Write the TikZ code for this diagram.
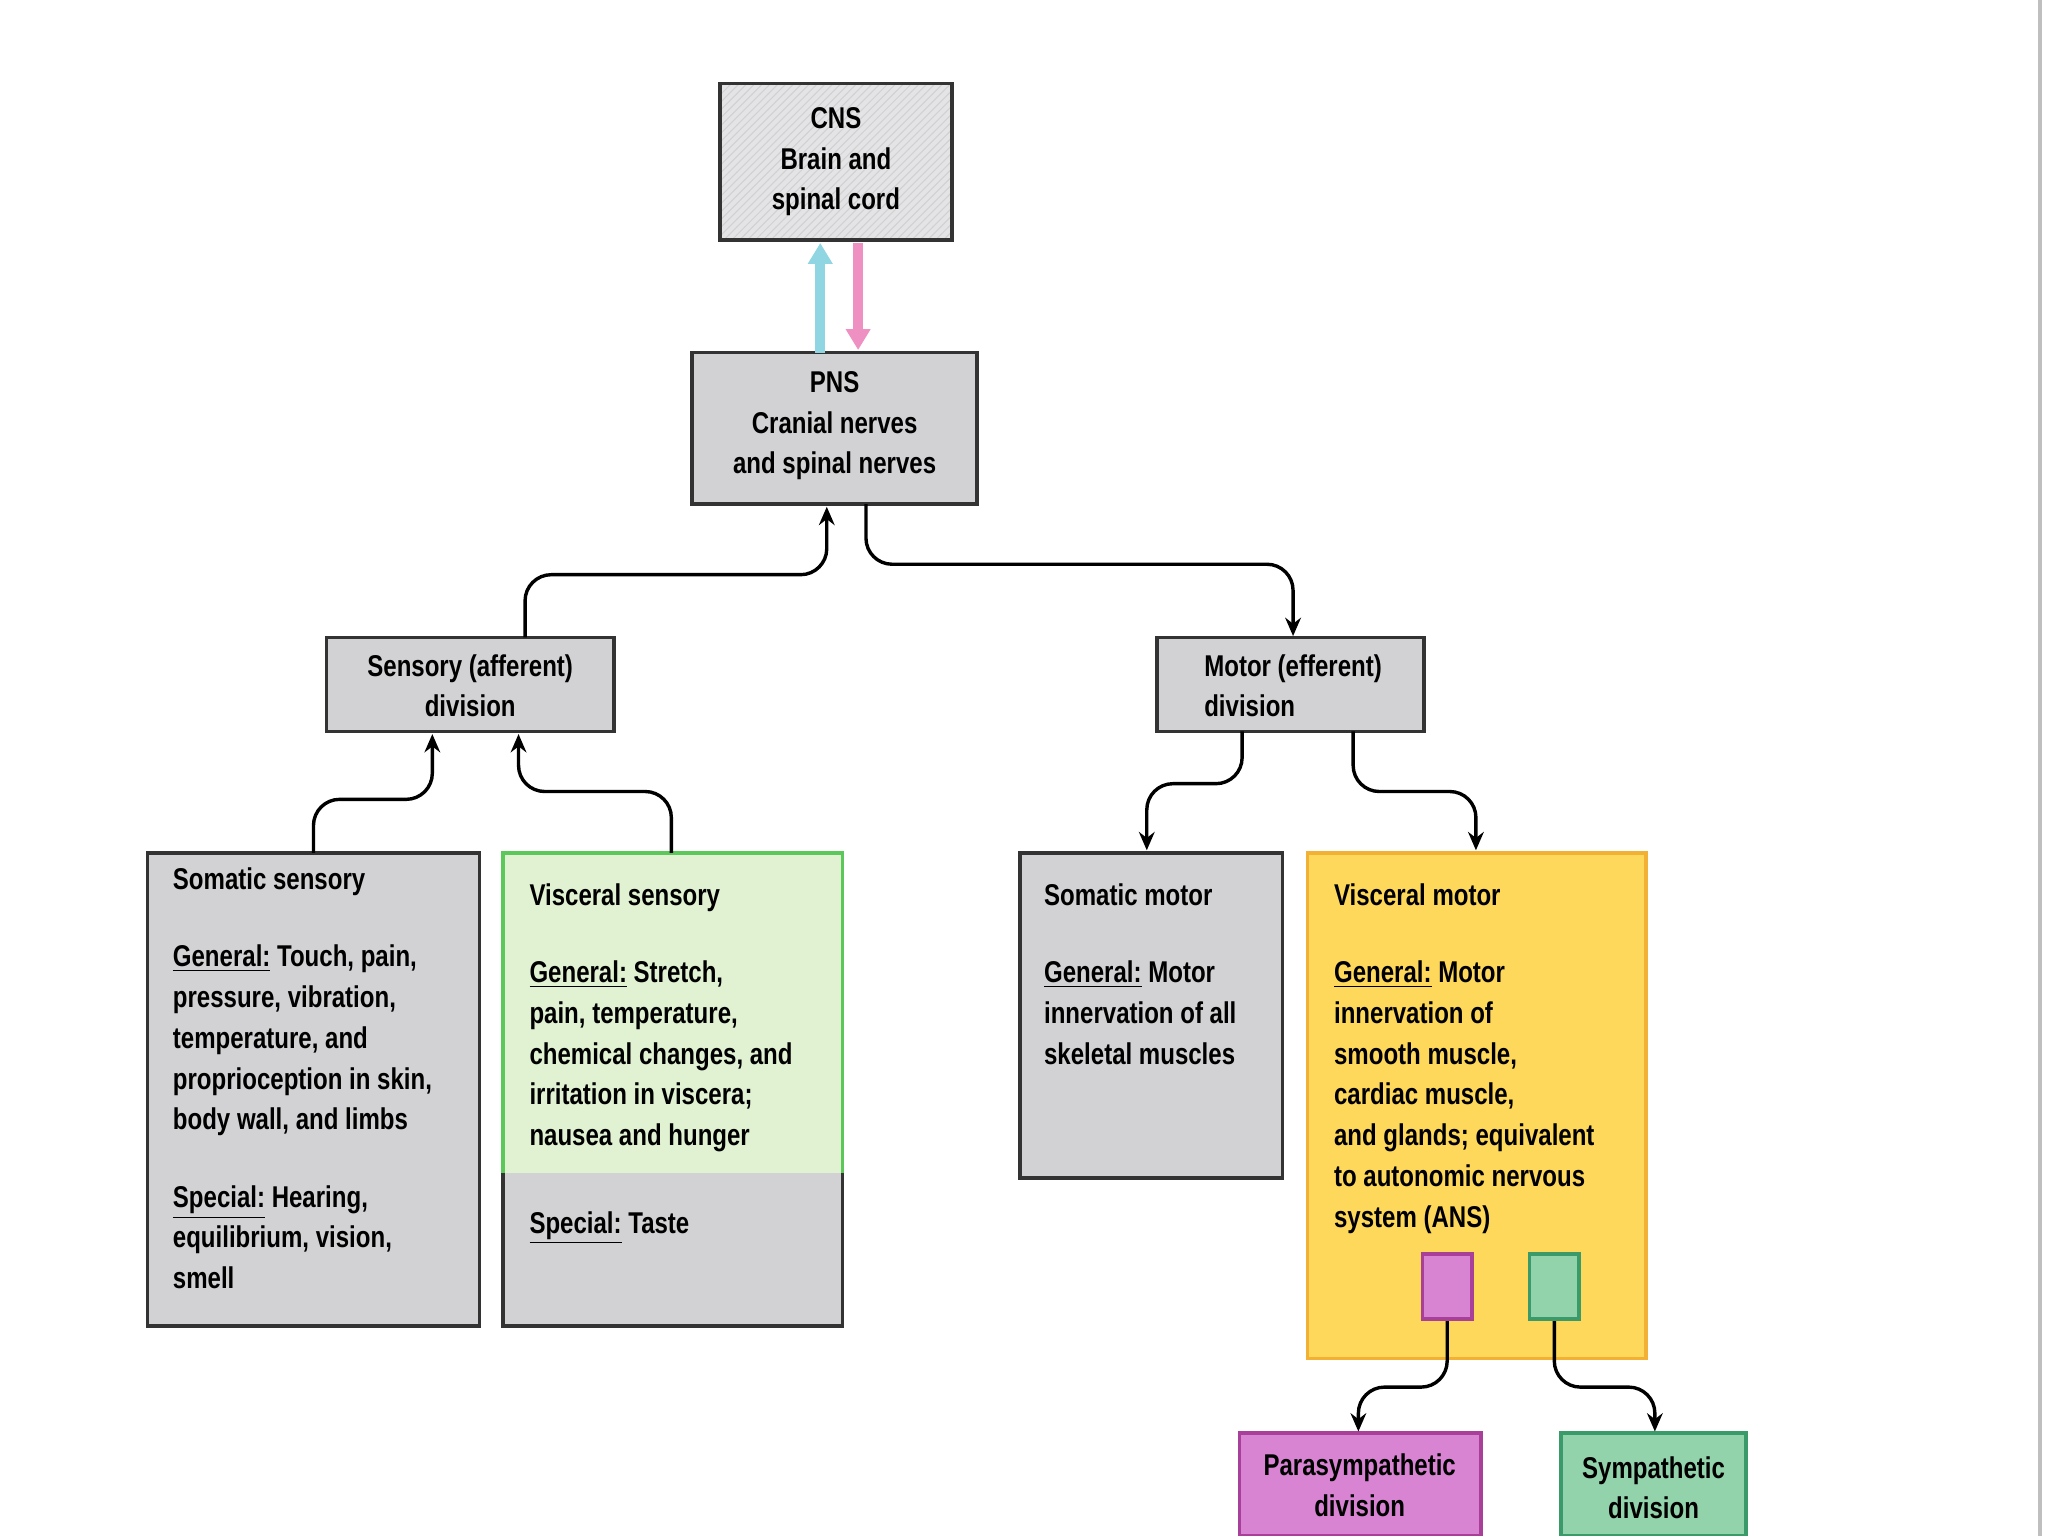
\documentclass[tikz,border=0pt]{standalone}
\usepackage{fontspec}
\setmainfont[FakeStretch=0.8]{Liberation Sans}
\usetikzlibrary{patterns,arrows.meta}
\definecolor{gbox}{HTML}{D2D1D3}
\definecolor{vgreen}{HTML}{E0F2D2}
\definecolor{vgreenb}{HTML}{5CC85C}
\definecolor{yel}{HTML}{FDD85A}
\definecolor{yelb}{HTML}{F2B134}
\definecolor{pinkf}{HTML}{D884D2}
\definecolor{pinkb}{HTML}{A8409A}
\definecolor{sgreen}{HTML}{93D3AC}
\definecolor{sgreenb}{HTML}{3A9A6A}
\definecolor{arrblue}{HTML}{8FD6E2}
\definecolor{arrpink}{HTML}{EE90C2}
\begin{document}
\begin{tikzpicture}[x=0.5pt,y=-0.5pt,
  bx/.style={draw=black!80,line width=1.4pt,fill=gbox},
  lbl/.style={font=\bfseries\fontsize{11.5}{15.5}\selectfont,align=center,inner sep=0},
  txt/.style={font=\fontsize{11.5}{15.6}\selectfont\bfseries,align=left,anchor=north west,inner sep=0},
  con/.style={line width=1.3pt,rounded corners=10pt,-{Stealth[length=7pt,width=6pt]}}]
\useasboundingbox (0,0) rectangle (1568,1176);
% boxes
\path[bx,fill=gbox!60] (551,64) rectangle (729,184);
\path[pattern=north east lines,pattern color=black!18] (551,64) rectangle (729,184);
\draw[black!80,line width=1.4pt] (551,64) rectangle (729,184);
\node[lbl] (cns) at (640,124) {CNS\\Brain and\\spinal cord};
\path[bx] (530,270) rectangle (748,386);
\node[lbl] (pns) at (639,326) {PNS\\Cranial nerves\\and spinal nerves};
\path[bx] (250,488) rectangle (470,560);
\node[lbl] (sens) at (360,525) {Sensory (afferent)\\division};
\path[bx] (886,488) rectangle (1090,560);
\node[lbl,align=left] (mot) at (990,525) {Motor (efferent)\\division};
% somatic sensory
\path[bx] (113,653) rectangle (367,1015);
\node[txt] (ss) at (132,664) {Somatic sensory\\[14pt]
\underline{General:} Touch, pain,\\pressure, vibration,\\temperature, and\\proprioception in skin,\\body wall, and limbs\\[14pt]
\underline{Special:} Hearing,\\equilibrium, vision,\\smell};
% visceral sensory
\fill[vgreen] (385,653) rectangle (645,898);
\fill[gbox] (385,898) rectangle (645,1015);
\draw[vgreenb,line width=1.4pt] (385,898) -- (385,653) -- (645,653) -- (645,898);
\draw[black!80,line width=1.4pt] (385,898) -- (385,1015) -- (645,1015) -- (645,898);
\node[txt] (vs) at (405,676) {Visceral sensory\\[14pt]
\underline{General:} Stretch,\\pain, temperature,\\chemical changes, and\\irritation in viscera;\\nausea and hunger};
\node[txt] (vsp) at (405,927) {\underline{Special:} Taste};
% somatic motor
\path[bx] (781,653) rectangle (982,902);
\node[txt] (sm) at (799,676) {Somatic motor\\[14pt]
\underline{General:} Motor\\innervation of all\\skeletal muscles};
% visceral motor
\path[draw=yelb,fill=yel,line width=1.4pt] (1001,653) rectangle (1260,1040);
\node[txt] (vm) at (1021,676) {Visceral motor\\[14pt]
\underline{General:} Motor\\innervation of\\smooth muscle,\\cardiac muscle,\\and glands; equivalent\\to autonomic nervous\\system (ANS)};
\node[draw=pinkb,fill=pinkf,line width=1.4pt,minimum width=19pt,minimum height=25pt,inner sep=0] (psq) at (1108,985) {};
\node[draw=sgreenb,fill=sgreen,line width=1.4pt,minimum width=19pt,minimum height=25pt,inner sep=0] (gsq) at (1190,985) {};
\path[draw=pinkb,fill=pinkf,line width=1.4pt] (949,1097) rectangle (1134,1176);
\node[lbl] (para) at (1041,1137) {Parasympathetic\\division};
\path[draw=sgreenb,fill=sgreen,line width=1.4pt] (1195,1097) rectangle (1337,1176);
\node[lbl] (symp) at (1266,1139) {Sympathetic\\division};
% connectors
\draw[arrblue,line width=4pt,-{Triangle[length=8pt,width=9pt]}] (628,270) -- (628,186);
\draw[arrpink,line width=4pt,-{Triangle[length=8pt,width=9pt]}] (657,186) -- (657,268);
\draw[con] (402,488) -- (402,440) -- (633,440) -- (633,388);
\draw[con] (663,386) -- (663,432) -- (990,432) -- (990,487);
\draw[con] (240,653) -- (240,612) -- (331,612) -- (331,562);
\draw[con] (514,653) -- (514,606) -- (397,606) -- (397,562);
\draw[con] (951,560) -- (951,600) -- (878,600) -- (878,651);
\draw[con] (1036,560) -- (1036,606) -- (1130,606) -- (1130,651);
\draw[con] (psq.south) -- (1108,1062) -- (1040,1062) -- (1040,1096);
\draw[con] (gsq.south) -- (1190,1062) -- (1267,1062) -- (1267,1096);
\draw[gray!50,line width=1.5pt] (1562,0) -- (1562,1176);
\end{tikzpicture}
\end{document}
